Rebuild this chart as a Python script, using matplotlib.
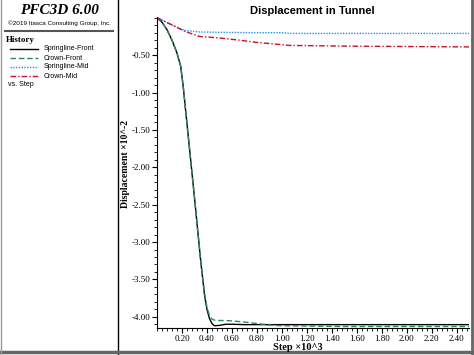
import matplotlib
matplotlib.use("Agg")
import matplotlib.pyplot as plt
from matplotlib.lines import Line2D
from matplotlib.ticker import MultipleLocator, FormatStrFormatter

# valores (passo x10^3, deslocamento x10^-2)
step_front = [0.0, 0.04, 0.08, 0.12, 0.16, 0.19, 0.21, 0.23, 0.30, 0.35, 0.38, 0.40, 0.42, 0.44, 0.46,
              0.50, 0.55, 0.60, 0.70, 0.80, 0.90, 1.0, 1.5, 2.0, 2.5]
springline_front = [0.0, -0.06, -0.16, -0.30, -0.47, -0.65, -0.92, -1.25, -2.40, -3.25, -3.70, -3.90, -4.02,
                    -4.09, -4.12, -4.115, -4.10, -4.10, -4.105, -4.105, -4.105, -4.105, -4.105, -4.105, -4.105]
crown_front = [0.0, -0.06, -0.16, -0.30, -0.47, -0.65, -0.92, -1.25, -2.40, -3.25, -3.68, -3.87, -3.98,
               -4.03, -4.045, -4.05, -4.05, -4.055, -4.07, -4.09, -4.11, -4.12, -4.13, -4.13, -4.13]

step_mid = [0.0, 0.10, 0.22, 0.34, 0.50, 0.66, 0.80, 1.0, 1.06, 1.54, 2.0, 2.5]
springline_mid = [0.0, -0.08, -0.17, -0.19, -0.195, -0.198, -0.20, -0.20, -0.21, -0.21, -0.21, -0.21]
crown_mid = [0.0, -0.08, -0.18, -0.25, -0.27, -0.30, -0.33, -0.36, -0.37, -0.38, -0.385, -0.39]

series_names = ["Springline-Front", "Crown-Front", "Springline-Mid", "Crown-Mid"]
series_colors = ["#000000", "#2e8b57", "#1e90ff", "#c8102e"]
series_styles = ["-", (0, (4, 2)), (0, (1, 1)), (0, (4, 1.5, 1, 1.5))]

fig = plt.figure(figsize=(4.74, 3.55), dpi=100)
W, H = 474.0, 355.0

ax = fig.add_axes([157 / W, 1 - 328 / H, 312 / W, 311 / H])
dados = [springline_front, crown_front, springline_mid, crown_mid]
passos = [step_front, step_front, step_mid, step_mid]
for i in range(4):
    ax.plot(passos[i], dados[i], color=series_colors[i], linestyle=series_styles[i], linewidth=1.0)

ax.set_xlim(0, 2.5)
ax.set_ylim(-4.15, 0.01)
ax.spines["top"].set_visible(False)
ax.spines["right"].set_visible(False)
ax.xaxis.set_major_locator(MultipleLocator(0.2))
ax.xaxis.set_minor_locator(MultipleLocator(0.04))
ax.yaxis.set_major_locator(MultipleLocator(0.5))
ax.yaxis.set_minor_locator(MultipleLocator(0.1))
ax.xaxis.set_major_formatter(FormatStrFormatter("%.2f"))
ax.yaxis.set_major_formatter(FormatStrFormatter("%.2f"))
ax.set_xticks([0.2 * k for k in range(1, 13)])
ax.set_yticks([-0.5 * k for k in range(1, 9)])
ax.tick_params(which="major", direction="out", length=3.5, width=0.8, labelsize=6.5, pad=1.5)
ax.tick_params(which="minor", direction="out", length=2, width=0.6)
for lbl in ax.get_xticklabels() + ax.get_yticklabels():
    lbl.set_family("Liberation Serif")

fig.text(312 / W, 1 - 11 / H, "Displacement in Tunnel", ha="center", va="center",
         family="Liberation Sans", weight="bold", fontsize=8)
fig.text(298 / W, 1 - 347 / H, "Step \u00d710^3", ha="center", va="center",
         family="Liberation Serif", weight="bold", fontsize=7.5)
fig.text(125 / W, 1 - 164 / H, "Displacement \u00d710^-2", ha="center", va="center", rotation=90,
         family="Liberation Serif", weight="bold", fontsize=7)

# painel da esquerda
fig.text(59 / W, 1 - 11 / H, "PFC3D 6.00", ha="center", va="center",
         family="Liberation Serif", weight="bold", style="italic", fontsize=11)
fig.text(59 / W, 1 - 23 / H, "\u00a92019 Itasca Consulting Group, Inc.", ha="center", va="center",
         family="Liberation Sans", fontsize=4.6)
fig.add_artist(Line2D([5 / W, 113 / W], [1 - 31 / H, 1 - 31 / H], color="#555555", linewidth=1.5))
fig.text(6 / W, 1 - 40 / H, "History", ha="left", va="center",
         family="Liberation Serif", weight="bold", fontsize=6.5)
for i in range(4):
    yy = 1 - (49 + 9 * i) / H
    fig.add_artist(Line2D([10 / W, 38 / W], [yy, yy], color=series_colors[i],
                          linestyle=series_styles[i], linewidth=1.0))
    fig.text(44 / W, yy, series_names[i], ha="left", va="center", family="Liberation Sans", fontsize=5)
fig.text(8 / W, 1 - 85 / H, "vs. Step", ha="left", va="center", family="Liberation Sans", fontsize=5)

# bordas
fig.add_artist(Line2D([118 / W, 118 / W], [0, 1], color="#000000", linewidth=1.0))
fig.add_artist(Line2D([472 / W, 472 / W], [0, 1], color="#666666", linewidth=2.0))
fig.add_artist(Line2D([0, 1], [1 - 352 / H, 1 - 352 / H], color="#666666", linewidth=2.5))
fig.add_artist(Line2D([0.5 / W, 0.5 / W], [0, 1], color="#999999", linewidth=1.0))

fig.savefig("out.png", dpi=100)
